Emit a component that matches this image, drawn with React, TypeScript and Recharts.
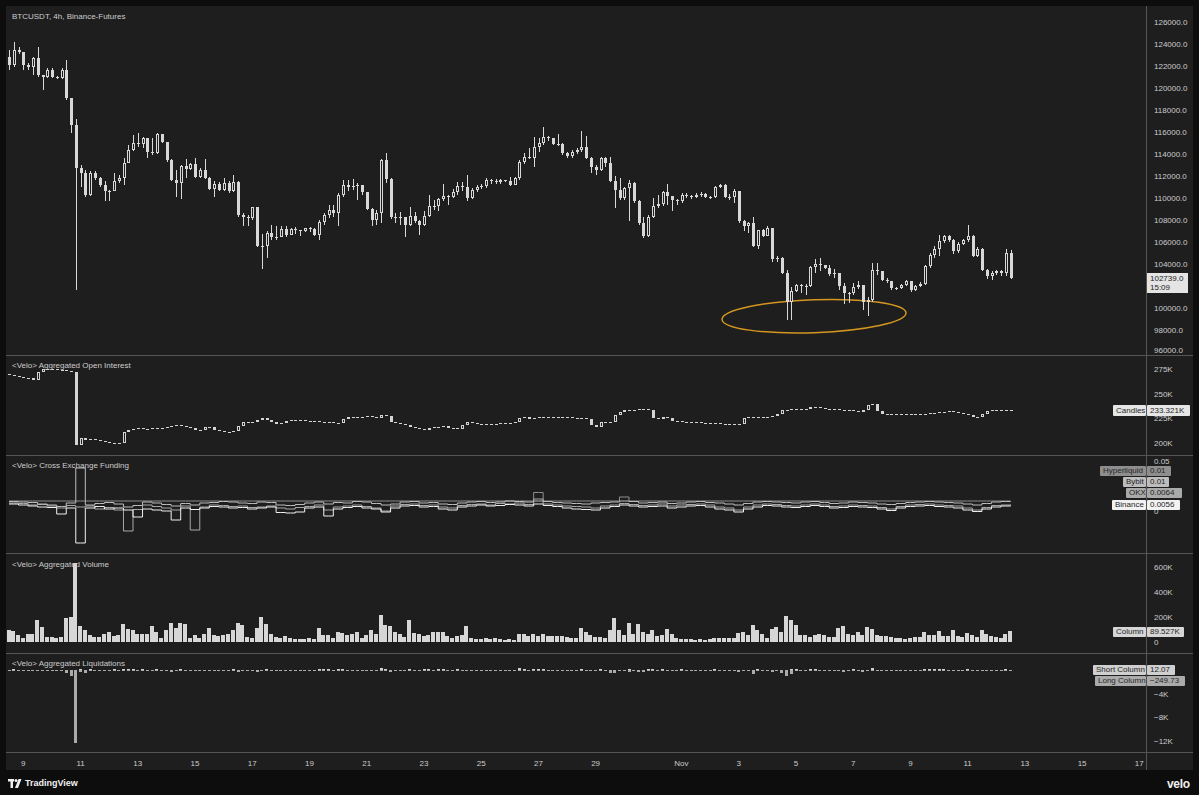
import React from 'react';
import { ComposedChart, Bar, Line, XAxis, YAxis, ReferenceArea } from 'recharts';

// BTCUSDT 4h candles, Oct 8 12:00 -> Nov 12 12:00 (211 bars)
const OPEN_FIRST = 122850;
const closes = [
  122090, 123450, 123240, 122090, 121940, 122700, 121180, 120970, 121640, 121030,
  120940, 121640, 119060, 116640, 112700, 112240, 110270, 112300, 111800, 111180,
  110580, 110640, 111490, 111790, 113150, 114360, 114970, 114880, 115430, 114210,
  114120, 115790, 115120, 113450, 111640, 111330, 112900, 112600, 113060, 111940,
  112550, 111790, 110790, 111240, 110730, 111330, 110580, 111400, 108460, 108240,
  108150, 109150, 105580, 105600, 106790, 106400, 106430, 107150, 106640, 107180,
  107100, 106940, 107240, 107150, 106640, 107760, 108450, 108900, 108600, 110270,
  111180, 111030, 111050, 111150, 110490, 109000, 108000, 108600, 113450, 111700,
  108240, 108260, 108300, 107550, 108360, 107850, 107550, 108360, 109300, 109270,
  109880, 110180, 110120, 110490, 111090, 111030, 109970, 110670, 111030, 111050,
  111580, 111520, 111480, 111580, 111550, 111200, 111790, 113300, 113760, 113670,
  114600, 115030, 115520, 115420, 114880, 114900, 114060, 113820, 114180, 114360,
  114670, 113600, 112850, 112490, 113600, 113150, 111490, 110670, 109970, 110880,
  111390, 109670, 107700, 106490, 108300, 109270, 109450, 110490, 110180, 109820,
  109670, 110270, 110180, 110060, 110240, 110360, 110060, 110080, 110970, 111150,
  110060, 110120, 110580, 107850, 107450, 107700, 105640, 107030, 106550, 107240,
  104420, 104500, 103200, 100490, 101480, 102090, 102000, 102020, 103700, 103970,
  103900, 103600, 103100, 103200, 102000, 101330, 101350, 101880, 102090, 100490,
  100730, 103400, 103300, 102550, 102400, 101790, 101760, 102090, 102400, 101580,
  102000, 102180, 103760, 104820, 105330, 106030, 106490, 106180, 105120, 105820,
  106120, 106490, 104730, 105330, 103460, 102910, 103150, 103300, 103150, 104970,
  102739,
];
const highs = [
  123450, 124200, 123760, 123300, 122240, 122850, 123760, 121200, 121800, 121800,
  121100, 121800, 122550, 119100, 117200, 113000, 112550, 112400, 112400, 111940,
  111500, 110730, 112240, 112100, 113600, 114800, 115730, 115880, 115580, 115330,
  115430, 115940, 115790, 115120, 113500, 112550, 113000, 113500, 113150, 113600,
  112700, 113500, 111940, 111500, 111400, 111800, 111500, 112100, 111500, 108600,
  108460, 109200, 109200, 106700, 106950, 107550, 107400, 107400, 107400, 107300,
  107330, 107100, 107300, 107330, 107300, 107940, 108600, 109360, 109360, 110420,
  111640, 111640, 111700, 111330, 110800, 110570, 109060, 108900, 113500, 114060,
  111800, 108600, 108670, 108300, 109200, 108670, 107940, 108760, 110270, 109820,
  110000, 111270, 110300, 110800, 111480, 111480, 112090, 110900, 111180, 111240,
  111790, 111700, 111700, 111700, 111640, 111940, 111880, 113450, 114060, 114500,
  115580, 115400, 116420, 115640, 115400, 115820, 114970, 114150, 114360, 114500,
  116120, 115640, 113700, 112970, 113700, 113760, 113760, 112000, 111800, 111030,
  111640, 111400, 109760, 108240, 108400, 110000, 110270, 110600, 111270, 110200,
  109900, 110400, 110400, 110270, 110400, 110500, 110450, 110200, 111090, 111300,
  111240, 110360, 110760, 110600, 107940, 107760, 108300, 107100, 107150, 107400,
  107300, 104700, 104600, 103400, 101900, 102200, 102200, 102200, 103800, 104420,
  104500, 103900, 103900, 103500, 103200, 102240, 101450, 102240, 102400, 102000,
  101000, 104060, 104060, 103300, 102700, 102400, 101900, 102200, 102500, 102400,
  102090, 102300, 103850, 105000, 105600, 106640, 106600, 106640, 106300, 106000,
  106300, 107550, 106600, 105500, 105450, 103500, 103300, 103450, 103400, 105300,
  105270,
];
const lows = [
  121640, 121950, 123100, 121640, 121640, 121180, 121030, 119800, 120900, 120900,
  120800, 120800, 118900, 115900, 101640, 111030, 110120, 110200, 111600, 111030,
  109670, 109670, 110580, 111330, 111180, 113150, 114300, 114670, 114520, 113600,
  113900, 114000, 115000, 113300, 111500, 110120, 109880, 111800, 112500, 111800,
  111850, 111700, 110700, 110120, 110580, 110580, 110400, 110500, 108300, 107450,
  107400, 108000, 105500, 103500, 104500, 106200, 106200, 106400, 106400, 106600,
  106730, 106500, 106900, 106900, 106500, 106120, 107550, 108150, 108300, 107450,
  110060, 110600, 110730, 109800, 110300, 108900, 107400, 107550, 107700, 111330,
  108100, 107700, 107550, 106400, 107400, 107700, 106640, 107400, 108300, 108900,
  108760, 109700, 109360, 110000, 110270, 110600, 109670, 109900, 110500, 110800,
  110900, 111300, 111300, 111240, 111400, 111100, 111200, 111600, 113100, 113500,
  112850, 114200, 114800, 115200, 114800, 114730, 113900, 113600, 113600, 114000,
  114200, 113500, 112240, 112100, 112400, 112850, 111400, 109060, 109820, 109760,
  107850, 109500, 107550, 106330, 106400, 108200, 109060, 109270, 109360, 108760,
  109360, 109500, 110000, 109900, 109970, 110100, 109970, 109900, 109970, 110900,
  109970, 109760, 109520, 107700, 107000, 106800, 105500, 105300, 106400, 106500,
  104200, 104200, 103100, 98910, 98910, 101400, 101300, 101200, 101900, 103150,
  103300, 103500, 102850, 102700, 101600, 100360, 100400, 101200, 101700, 99820,
  99210, 100500, 102970, 102400, 102240, 101600, 101600, 101700, 102000, 101400,
  101500, 101900, 102100, 103600, 104500, 104700, 105900, 106000, 104900, 105000,
  105700, 106000, 104600, 104600, 103300, 102600, 102550, 103000, 102900, 102900,
  102600,
];

// aggregated open interest, K
const OI_OPEN_FIRST = 269.5;
const oiCloses = [
  268.9, 267.8, 267.0, 266.2, 265.5, 264.2, 271.5, 274.5, 275.0, 274.8,
  274.2, 274.0, 272.5, 272.0, 198.5, 205.5, 203.8, 204.5, 203.5, 202.8,
  201.8, 200.8, 199.5, 200.5, 211.5, 213.5, 214.2, 215.0, 214.0, 214.5,
  215.0, 214.3, 215.2, 216.0, 217.8, 218.5, 217.2, 216.5, 215.8, 213.5,
  213.0, 216.8, 216.0, 213.8, 212.5, 211.8, 211.5, 212.5, 217.2, 221.5,
  221.8, 221.2, 223.2, 225.5, 224.0, 222.0, 219.8, 220.5, 222.2, 223.8,
  223.5, 223.2, 223.0, 222.8, 222.5, 221.0, 220.5, 221.5, 220.2, 220.0,
  225.0, 226.5, 227.0, 226.8, 226.5, 227.2, 226.8, 226.0, 228.5, 227.5,
  222.0, 220.0, 219.2, 218.0, 216.0, 215.0, 214.0, 213.2, 215.5, 216.5,
  216.0, 217.2, 215.5, 215.0, 214.8, 218.5, 221.0, 220.5, 219.8, 219.5,
  219.0, 219.2, 219.5, 220.0, 220.5, 220.8, 221.5, 225.5, 226.5, 225.0,
  225.8, 226.2, 226.5, 226.8, 227.0, 226.5, 226.0, 226.5, 226.0, 225.5,
  226.0, 225.0, 218.0, 216.5, 221.5, 221.0, 221.8, 228.5, 232.0, 233.5,
  234.0, 233.8, 235.0, 234.5, 234.0, 226.0, 225.0, 226.5, 225.5, 223.0,
  222.5, 222.0, 221.8, 221.5, 221.0, 220.8, 220.5, 220.0, 220.2, 219.5,
  219.7, 219.0, 218.5, 219.8, 225.5, 226.5, 225.8, 226.5, 226.0, 227.0,
  227.5, 230.0, 233.5, 233.7, 234.5, 233.8, 234.8, 234.5, 236.5, 236.8,
  235.5, 235.0, 234.5, 235.0, 234.0, 233.5, 233.8, 233.0, 232.0, 233.5,
  239.0, 240.0, 233.0, 230.0, 229.5, 229.2, 229.0, 229.3, 229.0, 229.5,
  229.0, 229.8, 229.5, 230.5, 231.0, 232.0, 231.5, 232.5, 231.8, 230.5,
  229.5, 228.5, 227.0, 226.5, 229.5, 233.0, 233.5, 233.2, 233.0, 233.5,
  233.321,
];

// aggregated volume, K
const volumes = [
  91, 88, 52, 31, 65, 65, 170, 117, 39, 39,
  31, 35, 188, 196, 630, 125, 91, 57, 39, 39,
  65, 78, 47, 52, 143, 104, 91, 65, 65, 65,
  125, 78, 31, 91, 151, 110, 151, 143, 26, 52,
  31, 65, 110, 52, 47, 52, 65, 91, 151, 136,
  39, 31, 110, 201, 143, 65, 39, 31, 47, 31,
  21, 21, 21, 26, 21, 110, 52, 52, 31, 78,
  73, 52, 65, 78, 31, 52, 97, 65, 214, 136,
  125, 78, 65, 39, 170, 73, 65, 47, 57, 78,
  78, 78, 47, 31, 47, 57, 125, 31, 21, 21,
  26, 21, 31, 21, 13, 21, 13, 65, 65, 47,
  65, 47, 65, 47, 47, 47, 47, 39, 31, 31,
  110, 78, 52, 39, 39, 31, 91, 190, 91, 52,
  151, 65, 143, 78, 65, 91, 47, 57, 104, 65,
  31, 21, 21, 21, 13, 21, 13, 21, 31, 31,
  31, 31, 31, 73, 78, 57, 130, 91, 65, 31,
  99, 117, 78, 203, 170, 130, 57, 52, 39, 52,
  65, 57, 39, 39, 110, 125, 65, 52, 78, 52,
  117, 99, 57, 47, 47, 39, 31, 31, 21, 31,
  39, 39, 78, 57, 57, 83, 47, 47, 91, 47,
  39, 73, 52, 39, 91, 65, 47, 39, 31, 65,
  89.527,
];

// funding per 8h (one value per two 4h bars)
const fundHyperliquid = [
  0.0100, 0.0100, 0.0100, 0.0100, 0.0100, 0.0100, 0.0100, 0.0100, 0.0100, 0.0100,
  0.0100, 0.0100, 0.0100, 0.0100, 0.0100, 0.0100, 0.0100, 0.0100, 0.0100, 0.0100,
  0.0100, 0.0100, 0.0100, 0.0100, 0.0100, 0.0100, 0.0100, 0.0100, 0.0100, 0.0100,
  0.0100, 0.0100, 0.0100, 0.0100, 0.0100, 0.0100, 0.0100, 0.0100, 0.0100, 0.0100,
  0.0100, 0.0100, 0.0100, 0.0100, 0.0100, 0.0100, 0.0100, 0.0100, 0.0100, 0.0100,
  0.0100, 0.0100, 0.0100, 0.0100, 0.0100, 0.0185, 0.0100, 0.0100, 0.0100, 0.0100,
  0.0100, 0.0100, 0.0100, 0.0100, 0.0140, 0.0100, 0.0100, 0.0100, 0.0100, 0.0100,
  0.0100, 0.0100, 0.0100, 0.0100, 0.0100, 0.0100, 0.0100, 0.0100, 0.0100, 0.0100,
  0.0100, 0.0100, 0.0100, 0.0100, 0.0100, 0.0100, 0.0100, 0.0100, 0.0100, 0.0100,
  0.0100, 0.0100, 0.0100, 0.0100, 0.0100, 0.0100, 0.0100, 0.0100, 0.0100, 0.0100,
  0.0100, 0.0100, 0.0100, 0.0100, 0.0100, 0.0100,
];
const fundBybit = [
  0.0095, 0.0090, 0.0085, 0.0070, 0.0060, 0.0045, 0.0080, 0.0430, 0.0060, 0.0075,
  0.0085, 0.0070, 0.0040, 0.0055, 0.0090, 0.0080, 0.0065, 0.0050, 0.0075, 0.0060,
  0.0080, 0.0085, 0.0095, 0.0090, 0.0080, 0.0075, 0.0090, 0.0085, 0.0060, 0.0055,
  0.0065, 0.0080, 0.0090, 0.0070, 0.0085, 0.0080, 0.0095, 0.0090, 0.0075, 0.0060,
  0.0070, 0.0090, 0.0095, 0.0080, 0.0085, 0.0070, 0.0065, 0.0080, 0.0090, 0.0095,
  0.0085, 0.0090, 0.0100, 0.0095, 0.0090, 0.0100, 0.0095, 0.0085, 0.0080, 0.0075,
  0.0070, 0.0080, 0.0085, 0.0090, 0.0100, 0.0095, 0.0080, 0.0085, 0.0090, 0.0075,
  0.0080, 0.0090, 0.0095, 0.0085, 0.0080, 0.0070, 0.0060, 0.0075, 0.0090, 0.0095,
  0.0090, 0.0085, 0.0080, 0.0090, 0.0095, 0.0085, 0.0075, 0.0080, 0.0090, 0.0085,
  0.0080, 0.0070, 0.0065, 0.0075, 0.0085, 0.0090, 0.0095, 0.0090, 0.0085, 0.0080,
  0.0070, 0.0060, 0.0075, 0.0090, 0.0095, 0.0100,
];
const fundOkx = [
  0.0080, 0.0075, 0.0060, 0.0065, 0.0050, 0.0030, 0.0055, 0.0040, 0.0050, 0.0020,
  0.0035, 0.0010, -0.0200, 0.0015, 0.0060, 0.0045, 0.0030, 0.0010, 0.0050, -0.0190,
  0.0040, 0.0060, 0.0055, 0.0045, 0.0050, 0.0035, 0.0040, 0.0050, 0.0030, 0.0020,
  0.0035, 0.0045, 0.0060, 0.0010, 0.0040, 0.0050, 0.0060, 0.0045, 0.0030, 0.0000,
  0.0050, 0.0065, 0.0070, 0.0055, 0.0060, 0.0040, 0.0030, 0.0055, 0.0065, 0.0070,
  0.0060, 0.0075, 0.0070, 0.0080, 0.0065, 0.0120, 0.0070, 0.0060, 0.0050, 0.0045,
  0.0040, 0.0030, 0.0050, 0.0060, 0.0075, 0.0065, 0.0055, 0.0060, 0.0070, 0.0050,
  0.0060, 0.0065, 0.0070, 0.0060, 0.0040, 0.0030, 0.0010, 0.0040, 0.0060, 0.0070,
  0.0065, 0.0055, 0.0050, 0.0060, 0.0070, 0.0060, 0.0045, 0.0050, 0.0060, 0.0055,
  0.0050, 0.0035, 0.0020, 0.0045, 0.0060, 0.0065, 0.0070, 0.0060, 0.0055, 0.0050,
  0.0030, 0.0010, 0.0035, 0.0055, 0.0060, 0.0064,
];
const fundBinance = [
  0.0070, 0.0060, 0.0050, 0.0040, 0.0035, -0.0030, 0.0030, -0.0320, 0.0030, 0.0045,
  0.0020, 0.0030, 0.0010, -0.0060, 0.0020, 0.0010, 0.0000, -0.0090, 0.0030, 0.0015,
  0.0030, 0.0045, 0.0040, 0.0030, 0.0035, 0.0020, 0.0030, 0.0040, -0.0015, -0.0020,
  -0.0010, 0.0030, 0.0040, -0.0050, 0.0020, 0.0035, 0.0045, 0.0030, 0.0020, -0.0010,
  0.0030, 0.0050, 0.0055, 0.0040, 0.0045, 0.0020, 0.0010, 0.0040, 0.0050, 0.0060,
  0.0050, 0.0055, 0.0065, 0.0060, 0.0050, 0.0070, 0.0055, 0.0045, 0.0030, 0.0020,
  0.0015, 0.0010, 0.0030, 0.0045, 0.0060, 0.0050, 0.0040, 0.0045, 0.0050, 0.0030,
  0.0040, 0.0050, 0.0055, 0.0040, 0.0020, 0.0010, -0.0010, 0.0020, 0.0040, 0.0055,
  0.0050, 0.0040, 0.0035, 0.0045, 0.0055, 0.0045, 0.0030, 0.0035, 0.0045, 0.0040,
  0.0035, 0.0020, 0.0005, 0.0030, 0.0045, 0.0050, 0.0055, 0.0045, 0.0040, 0.0030,
  0.0010, -0.0005, 0.0020, 0.0040, 0.0050, 0.0056,
];

// aggregated liquidations
const liqShorts = [
  20, 80, 40, 15, 10, 60, 30, 10, 45, 20,
  15, 55, 10, 5, 10, 90, 25, 160, 30, 20,
  15, 40, 95, 60, 180, 150, 110, 45, 70, 20,
  30, 120, 35, 10, 15, 20, 140, 40, 60, 15,
  50, 20, 10, 45, 15, 55, 20, 70, 10, 15,
  10, 60, 5, 20, 120, 35, 25, 60, 20, 30,
  15, 20, 35, 25, 10, 130, 90, 70, 40, 180,
  120, 30, 40, 50, 15, 10, 20, 35, 340, 90,
  10, 15, 25, 10, 110, 20, 15, 80, 140, 30,
  70, 80, 20, 50, 90, 40, 20, 60, 45, 25,
  50, 20, 20, 30, 15, 20, 45, 260, 110, 40,
  150, 90, 120, 25, 10, 40, 10, 15, 50, 40,
  70, 10, 10, 15, 100, 20, 10, 15, 10, 60,
  80, 15, 10, 10, 160, 110, 45, 120, 30, 15,
  20, 70, 20, 15, 30, 35, 10, 15, 90, 40,
  10, 25, 60, 10, 15, 30, 10, 120, 20, 60,
  10, 25, 10, 15, 120, 90, 30, 20, 200, 80,
  40, 15, 10, 25, 10, 15, 20, 70, 50, 10,
  60, 240, 40, 10, 15, 10, 15, 45, 50, 10,
  40, 35, 190, 160, 110, 150, 80, 20, 10, 60,
  50, 90, 10, 60, 10, 10, 25, 30, 20, 150,
  12.07,
];
const liqLongs = [
  -60, -20, -30, -90, -70, -40, -150, -120, -30, -80,
  -60, -20, -520, -1050, -12300, -320, -460, -40, -90, -130,
  -260, -150, -30, -20, -10, -10, -15, -60, -20, -110,
  -90, -15, -40, -180, -310, -220, -30, -60, -20, -150,
  -40, -120, -190, -60, -110, -50, -120, -40, -360, -180,
  -100, -30, -420, -260, -40, -60, -40, -20, -70, -30,
  -20, -60, -15, -30, -110, -20, -10, -15, -40, -10,
  -10, -50, -30, -60, -140, -220, -250, -60, -20, -120,
  -330, -90, -60, -210, -40, -80, -150, -30, -20, -40,
  -20, -15, -60, -10, -15, -30, -180, -40, -20, -15,
  -10, -20, -25, -10, -20, -40, -10, -10, -15, -20,
  -30, -10, -15, -30, -60, -20, -90, -60, -20, -15,
  -20, -110, -160, -120, -30, -90, -480, -520, -160, -50,
  -300, -180, -320, -280, -40, -20, -30, -20, -60, -90,
  -40, -15, -20, -30, -15, -10, -40, -30, -10, -15,
  -90, -40, -30, -360, -210, -120, -620, -60, -90, -40,
  -420, -150, -540, -1020, -720, -120, -80, -60, -20, -30,
  -40, -60, -110, -60, -250, -300, -90, -40, -30, -360,
  -200, -20, -30, -90, -60, -130, -50, -30, -20, -110,
  -40, -30, -10, -15, -10, -20, -15, -40, -160, -30,
  -20, -15, -190, -40, -230, -160, -60, -40, -50, -20,
  -249.73,
];

// x axis: candle index of each labelled day
const dayTickIdx = [3, 15, 27, 39, 51, 63, 75, 87, 99, 111, 123, 141, 153, 165, 177, 189, 201, 213, 225, 237];
const dayTickLabels = ['9', '11', '13', '15', '17', '19', '21', '23', '25', '27', '29', 'Nov', '3', '5', '7', '9', '11', '13', '15', '17'];

// 102000.0 sits under the last-price flag, so it is not drawn
const priceTicks = [96000, 98000, 100000, 104000, 106000, 108000, 110000, 112000, 114000, 116000, 118000, 120000, 122000, 124000, 126000];
const oiTicks = [200, 225, 250, 275];
const fundTicks = [0, 0.05];
const volTicks = [0, 200, 400, 600];
const liqTicks = [-12000, -8000, -4000];

// hand-drawn circle around the lows (candle index / price)
const lowZone = { x1: 149.5, x2: 188.1, y1: 97730, y2: 100730 };

const W = 1193;
const AXIS_W = 47;
const X_DOMAIN: [number, number] = [-0.63, 238.4];
const BG = '#1e1e1e';
const TXT = '#cccccc';
const SEP = '#555555';
const CANDLE = '#d8d8d8';
const FONT = '"Liberation Sans", Arial, sans-serif';
const M = { top: 0, right: 0, bottom: 0, left: 6 };
const PRICE_H = 349;

const rows = closes.map((c, i) => {
  const o = i === 0 ? OPEN_FIRST : closes[i - 1];
  const oc = oiCloses[i];
  const oo = i === 0 ? OI_OPEN_FIRST : oiCloses[i - 1];
  return {
    i,
    o,
    c,
    h: Math.max(highs[i], o, c),
    l: Math.min(lows[i], o, c),
    oo,
    oc,
    oh: Math.max(oo, oc),
    ol: Math.min(oo, oc),
    vol: volumes[i],
    hl: fundHyperliquid[i >> 1],
    by: fundBybit[i >> 1],
    okx: fundOkx[i >> 1],
    bn: fundBinance[i >> 1],
    ls: liqShorts[i],
    ll: liqLongs[i],
  };
});

function makeCandle(ok: string, hk: string, lk: string, ck: string, color: string) {
  return (props: any) => {
    const { x, y, width, height, payload } = props;
    if (x == null || y == null || !payload) return <g />;
    const o = payload[ok];
    const c = payload[ck];
    const hi = payload[hk];
    const lo = payload[lk];
    const span = hi - lo;
    const py = (v: number) => (span > 0 ? y + ((hi - v) / span) * height : y);
    const cx = Math.round(x + width / 2);
    const wTop = Math.round(y);
    const wBot = Math.round(y + height);
    const bTop = Math.round(py(Math.max(o, c)));
    let bBot = Math.round(py(Math.min(o, c)));
    if (bBot - bTop < 1) bBot = bTop + 1;
    const up = c > o;
    return (
      <g shapeRendering="crispEdges">
        <rect x={cx} y={wTop} width={1} height={Math.max(1, wBot - wTop)} fill={color} />
        {up && bBot - bTop >= 3 ? (
          <rect x={cx - 0.5} y={bTop + 0.5} width={2} height={bBot - bTop - 1} fill={BG} stroke={color} strokeWidth={1} />
        ) : (
          <rect x={cx - 1} y={bTop} width={3} height={bBot - bTop} fill={color} />
        )}
      </g>
    );
  };
}

const priceCandle = makeCandle('o', 'h', 'l', 'c', CANDLE);
const oiCandle = makeCandle('oo', 'oh', 'ol', 'oc', '#d4d4d4');

function crispBar(color: string) {
  return (props: any) => {
    const { x, y, width, height } = props;
    if (x == null || y == null) return <g />;
    const a = Math.round(Math.min(y, y + height));
    let b = Math.round(Math.max(y, y + height));
    if (b - a < 1) b = a + 1;
    return <rect x={Math.round(x)} y={a} width={Math.round(width)} height={b - a} fill={color} shapeRendering="crispEdges" />;
  };
}

const tickStyle = { fill: TXT, fontSize: 8, fontFamily: FONT };

// price labels: keep the lowest one clear of the pane separator
const PriceTick = (p: any) => {
  const y = Math.min(p.y, PRICE_H - 5);
  return (
    <text x={p.x} y={y} dy="0.355em" textAnchor="start" fill={TXT} fontSize={8} fontFamily={FONT}>
      {Number(p.payload.value).toFixed(1)}
    </text>
  );
};

function Pane({ top, height, children }: { top: number; height: number; children: React.ReactNode }) {
  return <div style={{ position: 'absolute', left: 0, top, width: W, height }}>{children}</div>;
}

function Flag({ x, y, w, h, bg, text, align = 'left' }: { x: number; y: number; w: number; h: number; bg: string; text: string; align?: 'left' | 'right' }) {
  return (
    <div
      style={{
        position: 'absolute', left: x, top: y, width: w, height: h, background: bg, color: '#262626',
        fontSize: 8, lineHeight: `${h}px`, textAlign: align, padding: '0 3px', boxSizing: 'border-box',
        whiteSpace: 'nowrap', borderRadius: 1,
      }}
    >
      {text}
    </div>
  );
}

function Title({ y, text }: { y: number; text: string }) {
  return <div style={{ position: 'absolute', left: 12, top: y, fontSize: 8, lineHeight: '10px', color: TXT, whiteSpace: 'nowrap' }}>{text}</div>;
}

const Sep = ({ y }: { y: number }) => <div style={{ position: 'absolute', left: 6, top: y, width: 1187, height: 1, background: SEP }} />;

export default function App() {
  return (
    <div style={{ position: 'fixed', left: 0, top: 0, width: 1199, height: 795, background: '#0d0d0d', fontFamily: FONT, overflow: 'hidden' }}>
      <div style={{ position: 'absolute', left: 6, top: 6, width: 1187, height: 764, background: BG }} />

      <Pane top={6} height={PRICE_H}>
        <ComposedChart width={W} height={PRICE_H} data={rows} margin={M}>
          <XAxis dataKey="i" type="number" domain={X_DOMAIN} allowDataOverflow hide />
          <YAxis orientation="right" width={AXIS_W} domain={[95700, 127456]} allowDataOverflow ticks={priceTicks} interval={0}
            axisLine={false} tickLine={false} tick={PriceTick} />
          <Bar dataKey={(d: any) => [d.l, d.h]} barSize={3} shape={priceCandle} isAnimationActive={false} />
          <ReferenceArea x1={lowZone.x1} x2={lowZone.x2} y1={lowZone.y1} y2={lowZone.y2} ifOverflow="visible"
            shape={(p: any) => {
              const cx = p.x + p.width / 2;
              const cy = p.y + p.height / 2;
              return <ellipse cx={cx} cy={cy} rx={p.width / 2} ry={p.height / 2} fill="none" stroke="#d4961f" strokeWidth={1.5} transform={`rotate(-2 ${cx} ${cy})`} />;
            }} />
        </ComposedChart>
      </Pane>

      <Pane top={356} height={99}>
        <ComposedChart width={W} height={99} data={rows} margin={M}>
          <XAxis dataKey="i" type="number" domain={X_DOMAIN} allowDataOverflow hide />
          <YAxis orientation="right" width={AXIS_W} domain={[188.2, 288.1]} allowDataOverflow ticks={oiTicks} interval={0}
            tickFormatter={(v: number) => `${v}K`} axisLine={false} tickLine={false} tick={tickStyle} />
          <Bar dataKey={(d: any) => [d.ol, d.oh]} barSize={3} shape={oiCandle} isAnimationActive={false} />
        </ComposedChart>
      </Pane>

      <Pane top={456} height={97}>
        <ComposedChart width={W} height={97} data={rows} margin={M}>
          <XAxis dataKey="i" type="number" domain={X_DOMAIN} allowDataOverflow hide />
          <YAxis orientation="right" width={AXIS_W} domain={[-0.042, 0.055]} allowDataOverflow ticks={fundTicks} interval={0}
            tickFormatter={(v: number) => (v === 0 ? '0' : v.toFixed(2))} axisLine={false} tickLine={false} tick={tickStyle} />
          <Line type="stepAfter" dataKey="hl" stroke="#8e8e8e" strokeWidth={1} dot={false} isAnimationActive={false} />
          <Line type="stepAfter" dataKey="okx" stroke="#a9a9a9" strokeWidth={1} dot={false} isAnimationActive={false} />
          <Line type="stepAfter" dataKey="by" stroke="#bdbdbd" strokeWidth={1} dot={false} isAnimationActive={false} />
          <Line type="stepAfter" dataKey="bn" stroke="#f0f0f0" strokeWidth={1} dot={false} isAnimationActive={false} />
        </ComposedChart>
      </Pane>

      <Pane top={554} height={98}>
        <ComposedChart width={W} height={98} data={rows} margin={M}>
          <XAxis dataKey="i" type="number" domain={X_DOMAIN} allowDataOverflow hide />
          <YAxis orientation="right" width={AXIS_W} domain={[-82.4, 701.6]} allowDataOverflow ticks={volTicks} interval={0}
            tickFormatter={(v: number) => (v === 0 ? '0' : `${v}K`)} axisLine={false} tickLine={false} tick={tickStyle} />
          <Bar dataKey="vol" barSize={4} shape={crispBar('#d6d6d6')} isAnimationActive={false} />
        </ComposedChart>
      </Pane>

      <Pane top={654} height={116}>
        <ComposedChart width={W} height={116} data={rows} margin={M} stackOffset="sign">
          <XAxis dataKey="i" type="number" domain={X_DOMAIN} allowDataOverflow ticks={dayTickIdx} interval={0}
            tickFormatter={(v: number) => dayTickLabels[dayTickIdx.indexOf(v)] ?? ''} axisLine={false} tickLine={false}
            height={18} tick={tickStyle} />
          <YAxis orientation="right" width={AXIS_W} domain={[-13798, 2672]} allowDataOverflow ticks={liqTicks} interval={0}
            tickFormatter={(v: number) => `\u2212${Math.abs(v) / 1000}K`} axisLine={false} tickLine={false} tick={tickStyle} />
          <Bar dataKey="ls" stackId="liq" barSize={3} shape={crispBar('#cfcfcf')} isAnimationActive={false} />
          <Bar dataKey="ll" stackId="liq" barSize={3} shape={crispBar('#ababab')} isAnimationActive={false} />
        </ComposedChart>
      </Pane>

      <Sep y={355} />
      <Sep y={455} />
      <Sep y={553} />
      <Sep y={653} />
      <Sep y={752} />
      <div style={{ position: 'absolute', left: 1146, top: 6, width: 1, height: 764, background: SEP }} />

      <Title y={12} text="BTCUSDT, 4h, Binance-Futures" />
      <Title y={361} text="<Velo> Aggregated Open Interest" />
      <Title y={461} text="<Velo> Cross Exchange Funding" />
      <Title y={560} text="<Velo> Aggregated Volume" />
      <Title y={659} text="<Velo> Aggregated Liquidations" />

      <div style={{ position: 'absolute', left: 1147, top: 273, width: 41, height: 20, background: '#e4e4e4', color: '#222', fontSize: 8, lineHeight: '9px', padding: '1px 3px', boxSizing: 'border-box' }}>
        102739.0<br />15:09
      </div>

      <Flag x={1113} y={405} w={33} h={11} bg="#e6e6e6" text="Candles" align="right" />
      <Flag x={1147} y={405} w={43} h={11} bg="#e6e6e6" text="233.321K" />

      <Flag x={1100} y={466} w={46} h={10} bg="#8e8e8e" text="Hyperliquid" align="right" />
      <Flag x={1147} y={466} w={24} h={10} bg="#8e8e8e" text="0.01" />
      <Flag x={1123} y={477} w={23} h={10} bg="#bdbdbd" text="Bybit" align="right" />
      <Flag x={1147} y={477} w={22} h={10} bg="#bdbdbd" text="0.01" />
      <Flag x={1126} y={488} w={20} h={10} bg="#a9a9a9" text="OKX" align="right" />
      <Flag x={1147} y={488} w={35} h={10} bg="#a9a9a9" text="0.0064" />
      <Flag x={1112} y={500} w={34} h={10} bg="#f2f2f2" text="Binance" align="right" />
      <Flag x={1147} y={500} w={33} h={10} bg="#f2f2f2" text="0.0056" />

      <Flag x={1113} y={627} w={33} h={10} bg="#d6d6d6" text="Column" align="right" />
      <Flag x={1147} y={627} w={37} h={10} bg="#d6d6d6" text="89.527K" />

      <Flag x={1093} y={665} w={53} h={10} bg="#cfcfcf" text="Short Column" align="right" />
      <Flag x={1147} y={665} w={28} h={10} bg="#cfcfcf" text="12.07" />
      <Flag x={1095} y={676} w={51} h={10} bg="#ababab" text="Long Column" align="right" />
      <Flag x={1147} y={676} w={38} h={10} bg="#ababab" text={'\u2212249.73'} />

      <div style={{ position: 'absolute', left: 8, top: 778, display: 'flex', alignItems: 'center', gap: 3, color: '#f0f0f0' }}>
        <svg width={14} height={9} viewBox="0 0 14 9">
          <rect x={0} y={0} width={6} height={2.5} fill="#f0f0f0" />
          <rect x={2.5} y={0} width={2.5} height={9} fill="#f0f0f0" />
          <circle cx={8} cy={1.6} r={1.5} fill="#f0f0f0" />
          <polygon points="7,9 10.5,0 13.5,0 10,9" fill="#f0f0f0" />
        </svg>
        <span style={{ fontSize: 9, fontWeight: 700, lineHeight: '10px' }}>TradingView</span>
      </div>
      <div style={{ position: 'absolute', left: 1167, top: 777, fontSize: 12, fontWeight: 700, color: '#f0f0f0', lineHeight: '14px', letterSpacing: -0.3 }}>velo</div>
    </div>
  );
}
